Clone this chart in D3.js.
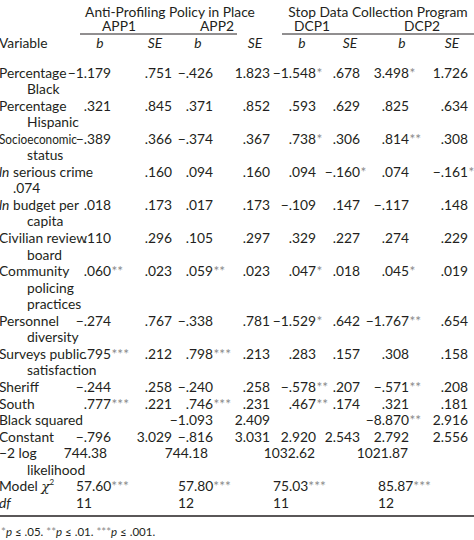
<!DOCTYPE html>
<html>
<head>
<meta charset="utf-8">
<script src="https://cdn.jsdelivr.net/npm/d3@7"></script>
<style>
  body { margin: 0; background: #fff; }
  text { font-family: Lato, "Open Sans", sans-serif; fill: #231f20; }
  .star { fill: #8a8a8a; }
</style>
</head>
<body>
<svg id="chart"></svg>
<script>
// variable labels (continuation lines indented)
const labels = [
  ["Percentage", "Black"],
  ["Percentage", "Hispanic"],
  ["Socioeconomic", "status"],
  ["ln serious crime", ".074"],
  ["ln budget per", "capita"],
  ["Civilian review", "board"],
  ["Community", "policing", "practices"],
  ["Personnel", "diversity"],
  ["Surveys public", "satisfaction"],
  ["Sheriff"],
  ["South"],
  ["Black squared"],
  ["Constant"]
];
const app1b  = ["−1.179", ".321", "−.389", "", ".018", ".110", ".060**", "−.274", ".795***", "−.244", ".777***", "", "−.796"];
const app1se = [".751", ".845", ".366", ".160", ".173", ".296", ".023", ".767", ".212", ".258", ".221", "", "3.029"];
const app2b  = ["−.426", ".371", "−.374", ".094", ".017", ".105", ".059**", "−.338", ".798***", "−.240", ".746***", "−1.093", "−.816"];
const app2se = ["1.823", ".852", ".367", ".160", ".173", ".297", ".023", ".781", ".213", ".258", ".231", "2.409", "3.031"];
const dcp1b  = ["−1.548*", ".593", ".738*", ".094", "−.109", ".329", ".047*", "−1.529*", ".283", "−.578**", ".467**", "", "2.920"];
const dcp1se = [".678", ".629", ".306", "−.160*", ".147", ".227", ".018", ".642", ".157", ".207", ".174", "", "2.543"];
const dcp2b  = ["3.498*", ".825", ".814**", ".074", "−.117", ".274", ".045*", "−1.767**", ".308", "−.571**", ".321", "−8.870**", "2.792"];
const dcp2se = ["1.726", ".634", ".308", "−.161*", ".148", ".229", ".019", ".654", ".158", ".208", ".181", "2.916", "2.556"];

const models = ["APP1", "APP2", "DCP1", "DCP2"];
const logLik = ["744.38", "744.18", "1032.62", "1021.87"];
const chi2   = ["57.60***", "57.80***", "75.03***", "85.87***"];
const df     = ["11", "12", "11", "12"];

const W = 474, H = 540;
const svg = d3.select("#chart").attr("width", W).attr("height", H);

// column right edges for numbers
const colRight = [111, 172, 213, 270, 316, 360, 409, 468];
const colHead  = [100, 155, 198, 255, 302, 350, 402, 452];
const modelHead = [119, 217, 312, 422];
const statLeft = [76, 178, 273, 378];
const columns = [app1b, app1se, app2b, app2se, dcp1b, dcp1se, dcp2b, dcp2se];

const y = d3.scaleLinear().domain([0, 1]).range([77.5, 77.5 + 16.55]);
const fs = 13.8;

// put number with gray stars; anchor numeric part
function cell(x, yy, str, anchor) {
  const m = str.match(/^([^*]*)(\**)$/);
  const num = m[1], stars = m[2];
  const t = svg.append("text").attr("y", yy).attr("font-size", fs);
  if (anchor === "end") {
    t.attr("x", x).attr("text-anchor", "end").text(num);
    if (stars) svg.append("text").attr("class", "star").attr("x", x + 0.5).attr("y", yy)
      .attr("font-size", fs).text(stars);
  } else {
    t.attr("x", x).text(num);
    if (stars) t.append("tspan").attr("class", "star").text(stars);
  }
}

// header
svg.append("text").attr("x", 170).attr("y", 17).attr("text-anchor", "middle").attr("font-size", fs).text("Anti-Profiling Policy in Place");
svg.append("text").attr("x", 378).attr("y", 17).attr("text-anchor", "middle").attr("font-size", fs).text("Stop Data Collection Program");
svg.selectAll(".mh").data(models).enter().append("text")
  .attr("x", (d, i) => modelHead[i]).attr("y", 31).attr("text-anchor", "middle")
  .attr("font-size", fs).text(d => d);
[[80, 237], [282, 474]].forEach(s => svg.append("line")
  .attr("x1", s[0]).attr("x2", s[1]).attr("y1", 34).attr("y2", 34)
  .attr("stroke", "#231f20").attr("stroke-width", 1));
svg.append("text").attr("x", -1).attr("y", 48).attr("font-size", fs).text("Variable");
svg.selectAll(".ch").data(colHead).enter().append("text")
  .attr("x", d => d).attr("y", 48).attr("text-anchor", "middle")
  .attr("font-size", fs).attr("font-style", "italic").text((d, i) => i % 2 ? "SE" : "b");

// body rows
let line = 0;
labels.forEach((lab, r) => {
  lab.forEach((s, k) => {
    const t = svg.append("text").attr("x", k ? (s === ".074" ? 13 : 27) : -1).attr("y", y(line + k)).attr("font-size", fs);
    if (s === "Socioeconomic") t.attr("textLength", 78).attr("lengthAdjust", "spacingAndGlyphs");
    if (s.startsWith("ln ")) {
      t.append("tspan").attr("font-style", "italic").text("ln");
      t.append("tspan").text(s.slice(2));
    } else t.text(s);
  });
  columns.forEach((col, c) => {
    if (col[r]) cell(colRight[c], y(line), col[r], "end");
  });
  line += lab.length;
});

// model statistics
svg.append("text").attr("x", -1).attr("y", y(line)).attr("font-size", fs).text("−2 log");
svg.append("text").attr("x", 27).attr("y", y(line + 1)).attr("font-size", fs).text("likelihood");
logLik.forEach((v, i) => cell([107, 208, 315, 408][i], y(line), v, "end"));
line += 2;
const mt = svg.append("text").attr("x", -1).attr("y", y(line)).attr("font-size", fs).text("Model ");
mt.append("tspan").attr("font-family", "DejaVu Serif").attr("font-style", "italic").text("χ");
mt.append("tspan").attr("font-size", 8).attr("dy", -6).text("2");
chi2.forEach((v, i) => cell(statLeft[i], y(line), v, "start"));
line += 1;
svg.append("text").attr("x", -1).attr("y", y(line)).attr("font-size", fs).attr("font-style", "italic").text("df");
df.forEach((v, i) => cell(statLeft[i], y(line), v, "start"));

svg.append("line").attr("x1", 0).attr("x2", W).attr("y1", 516).attr("y2", 516)
  .attr("stroke", "#231f20").attr("stroke-width", 1.3);

// footnote
const fn = svg.append("text").attr("x", 1).attr("y", 536).attr("font-size", 11.5);
[["*", "p", " ≤ .05. "], ["**", "p", " ≤ .01. "], ["***", "p", " ≤ .001."]].forEach(p => {
  fn.append("tspan").attr("class", "star").text(p[0]);
  fn.append("tspan").attr("font-style", "italic").text(p[1]);
  fn.append("tspan").text(p[2]);
});
</script>
</body>
</html>
